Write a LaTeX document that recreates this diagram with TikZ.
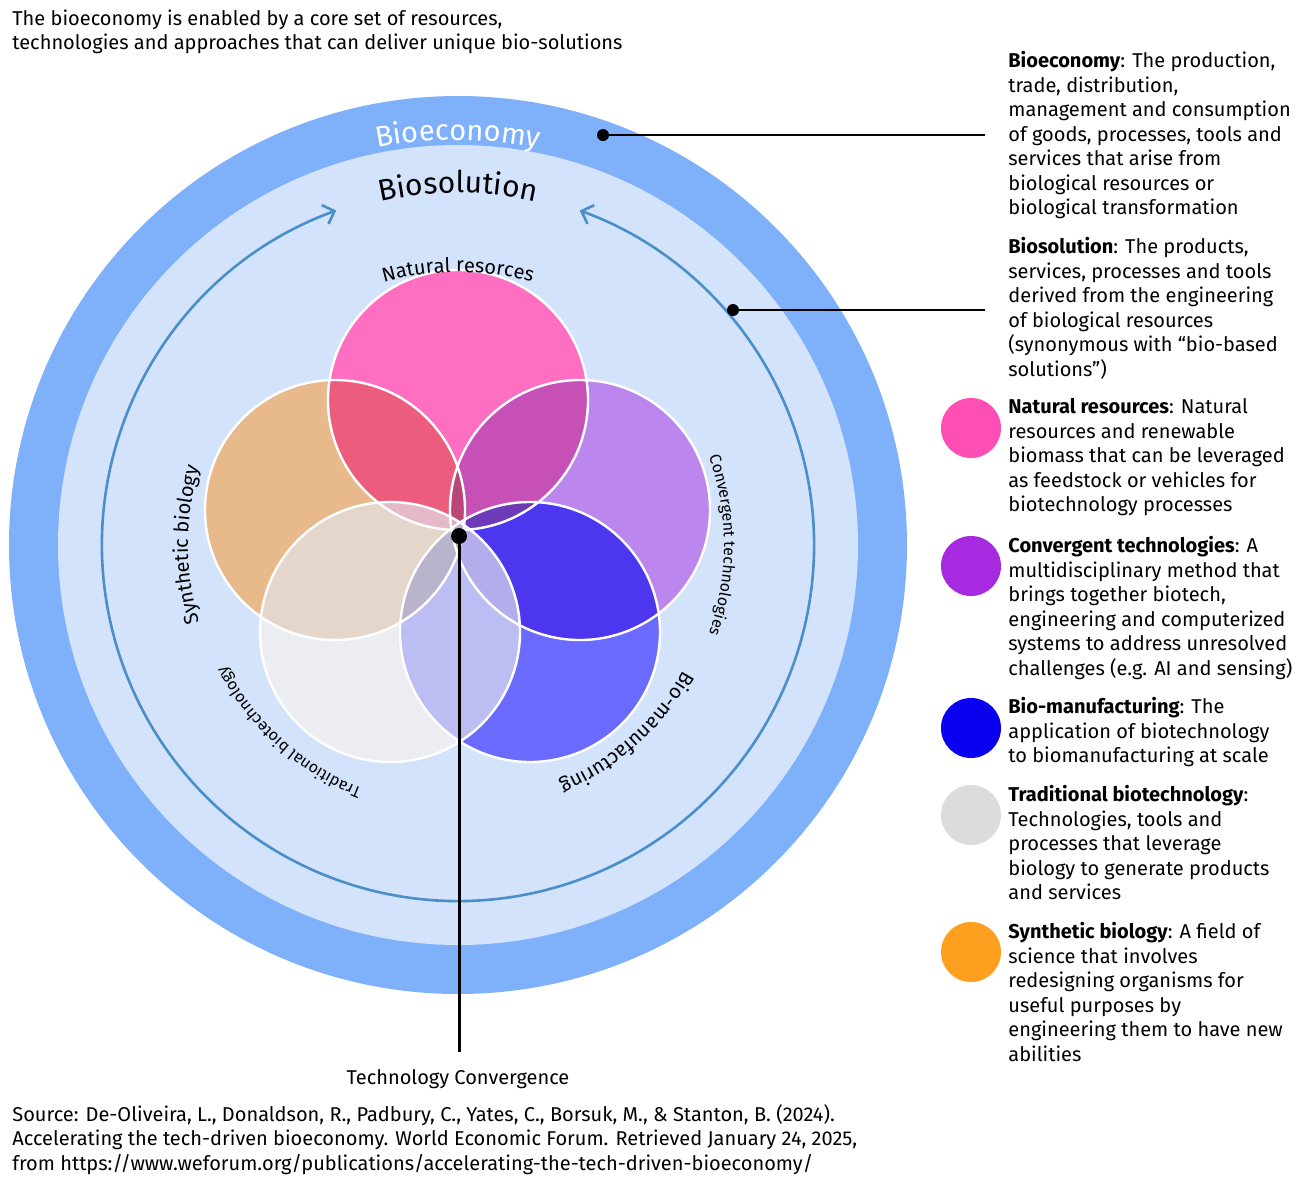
\documentclass[tikz,border=0pt]{standalone}
\usepackage{fontspec}
\setmainfont{Fira Sans}
\usetikzlibrary{decorations.text,arrows.meta}
\definecolor{ring}{HTML}{7FB0FA}
\definecolor{inner}{HTML}{D3E3FB}
\definecolor{arcc}{HTML}{4A8FC9}
\definecolor{cpink}{HTML}{FF50B4}
\definecolor{cpurple}{HTML}{BB86EE}
\definecolor{cblue}{HTML}{6A6AFF}
\definecolor{cgrey}{HTML}{E4E5EC}
\definecolor{corange}{HTML}{E8B98A}
\definecolor{lpink}{HTML}{FF4FB5}
\definecolor{lpurple}{HTML}{A62BE0}
\definecolor{lblue}{HTML}{0A00F0}
\definecolor{lgrey}{HTML}{DCDCDC}
\definecolor{lorange}{HTML}{FF9F1F}
\tikzset{
  venn/.style={fill=#1,blend mode=multiply},
  desc/.style={anchor=north west,align=left,font=\fontsize{10}{12.25}\selectfont,inner sep=0},
  leg/.style={fill=#1,draw=none},
  dot/.style={circle,fill=black,inner sep=0,minimum size=6pt},
  curved/.style={decorate,decoration={text along path,text align=center,text={#1}}}
}
\begin{document}
\begin{tikzpicture}[x=0.5pt,y=0.5pt]
\useasboundingbox[fill=white] (0,0) rectangle (1313,-1190);
\coordinate (c) at (458,-545);
\fill[ring] (c) circle[radius=449];
\fill[inner] (c) circle[radius=400];
\draw[arcc,line width=1.3pt,{Straight Barb[length=5pt,width=10pt]}-{Straight Barb[length=5pt,width=10pt]}] (c) ++(110:356) arc[start angle=110,end angle=430,radius=356];
% Venn
\begin{scope}[transparency group]
\fill[white] (458,-400) circle[radius=130] (335,-510) circle[radius=130] (580,-510) circle[radius=130] (530,-632) circle[radius=130] (390,-632) circle[radius=130];
\fill[venn=cpink] (458,-400) circle[radius=130];
\fill[venn=corange] (335,-510) circle[radius=130];
\fill[venn=cpurple] (580,-510) circle[radius=130];
\fill[venn=cblue] (530,-632) circle[radius=130];
\end{scope}
\fill[white,fill opacity=0.18] (458,-400) circle[radius=130];
\fill[cgrey,fill opacity=0.68] (390,-632) circle[radius=130];
\draw[white,line width=1.2pt] (458,-400) circle[radius=130] (335,-510) circle[radius=130] (580,-510) circle[radius=130] (530,-632) circle[radius=130] (390,-632) circle[radius=130];
% curved labels
\path[curved={|\fontsize{14.5}{14}\selectfont\color{white}|Bioeconomy}] (c) ++(135:405) arc[start angle=135,end angle=45,radius=405];
\path[curved={|\fontsize{15}{15}\selectfont|Biosolution}] (c) ++(135:352) arc[start angle=135,end angle=45,radius=352];
\path[curved={|\fontsize{10}{10}\selectfont|Natural resorces}] (c) ++(140:273) arc[start angle=140,end angle=40,radius=273];
\path[curved={|\fontsize{10}{10}\selectfont|Synthetic biology}] (c) ++(225:270) arc[start angle=225,end angle=135,radius=270];
\path[curved={|\fontsize{8}{8}\selectfont|Convergent technologies}] (c) ++(45:266) arc[start angle=45,end angle=-45,radius=266];
\path[curved={|\fontsize{8}{8}\selectfont|Traditional biotechnology}] (c) ++(273:262) arc[start angle=273,end angle=183,radius=262];
\path[curved={|\fontsize{10}{10}\selectfont|Bio-manufacturing}] (c) ++(-3:258) arc[start angle=-3,end angle=-93,radius=258];
% pointers
\node[dot] (d1) at (603,-135) {};
\coordinate (e1) at (985,-135);
\draw[line width=1.2pt] (d1.center) -- (e1);
\node[dot] (d2) at (733,-310) {};
\coordinate (e2) at (985,-310);
\draw[line width=1.2pt] (d2.center) -- (e2);
\node[dot,minimum size=8pt] (d3) at (459,-536) {};
\node[anchor=north,font=\fontsize{10}{12}\selectfont,inner sep=0] (tc) at (458,-1069) {Technology Convergence};
\draw[line width=1.5pt] (d3.center) -- (459,-1052);
% title & source
\node[desc] (title) at (12,-9) {The bioeconomy is enabled by a core set of resources,\\technologies and approaches that can deliver unique bio-solutions};
\node[desc] (src) at (12,-1104) {Source: De-Oliveira, L., Donaldson, R., Padbury, C., Yates, C., Borsuk, M., \& Stanton, B. (2024).\\Accelerating the tech-driven bioeconomy. World Economic Forum. Retrieved January 24, 2025,\\from https://www.weforum.org/publications/accelerating-the-tech-driven-bioeconomy/};
% right column
\node[desc] (t1) at (1008,-51) {\textbf{Bioeconomy}: The production,\\trade, distribution,\\management and consumption\\of goods, processes, tools and\\services that arise from\\biological resources or\\biological transformation};
\node[desc] (t2) at (1008,-237) {\textbf{Biosolution}: The products,\\services, processes and tools\\derived from the engineering\\of biological resources\\(synonymous with “bio-based\\solutions”)};
\node[desc] (t3) at (1008,-398) {\textbf{Natural resources}: Natural\\resources and renewable\\biomass that can be leveraged\\as feedstock or vehicles for\\biotechnology processes};
\node[desc] (t4) at (1008,-536) {\textbf{Convergent technologies}: A\\multidisciplinary method that\\brings together biotech,\\engineering and computerized\\systems to address unresolved\\challenges (e.g. AI and sensing)};
\node[desc] (t5) at (1008,-697) {\textbf{Bio-manufacturing}: The\\application of biotechnology\\to biomanufacturing at scale};
\node[desc] (t6) at (1008,-785) {\textbf{Traditional biotechnology}:\\Technologies, tools and\\processes that leverage\\biology to generate products\\and services};
\node[desc] (t7) at (1008,-922) {\textbf{Synthetic biology}: A field of\\science that involves\\redesigning organisms for\\useful purposes by\\engineering them to have new\\abilities};
\fill[leg=lpink] (971,-428) circle[radius=30];
\fill[leg=lpurple] (971,-566) circle[radius=30];
\fill[leg=lblue] (971,-728) circle[radius=30];
\fill[leg=lgrey] (971,-815) circle[radius=30];
\fill[leg=lorange] (971,-952) circle[radius=30];
\end{tikzpicture}
\end{document}
